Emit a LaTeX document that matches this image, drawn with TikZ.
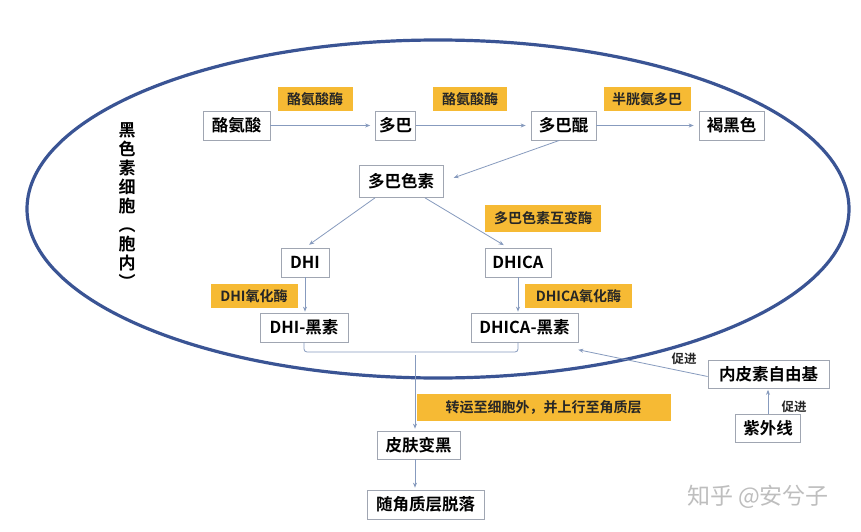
\documentclass[tikz,border=0pt]{standalone}
\usepackage{fontspec}
\setmainfont{Noto Sans CJK SC}[BoldFont={Noto Sans CJK SC Bold}]
\usetikzlibrary{arrows.meta}
\definecolor{ellc}{RGB}{58,84,148}
\definecolor{arrc}{RGB}{135,155,190}
\definecolor{boxc}{RGB}{160,166,178}
\definecolor{orangec}{RGB}{246,186,52}
\definecolor{wmc}{RGB}{190,190,190}
\begin{document}
\begin{tikzpicture}[x=1pt,y=-1pt,
  box/.style={draw=boxc, line width=0.7pt, fill=white, minimum height=29pt, inner sep=0pt,
    font=\fontsize{16.5}{16.5}\selectfont\bfseries, text=black},
  lab/.style={fill=orangec, inner sep=0pt, minimum height=24pt,
    font=\fontsize{14}{14}\selectfont\bfseries, text=black!85},
  plainlab/.style={inner sep=0pt, font=\fontsize{12.5}{12.5}\selectfont\bfseries, text=black!85},
  conn/.style={draw=arrc, line width=0.8pt},
  arr/.style={conn, -{Stealth[length=5pt,width=4pt]}},
]
\useasboundingbox (0,0) rectangle (861,532);
\fill[white] (0,0) rectangle (861,532);

% cell ellipse
\draw[ellc, line width=3.2pt] (438,209) ellipse [x radius=411, y radius=169];

% vertical label
\node[font=\fontsize{17}{19}\selectfont\bfseries, align=center, inner sep=0pt] (cell) at (127,206)
  {黑\\色\\素\\细\\胞\\︵\\胞\\内\\︶};

% boxes
\node[box, minimum width=67pt] (tyr) at (236.5,125.5) {酪氨酸};
\node[box, minimum width=40pt] (dopa) at (395.5,125.5) {多巴};
\node[box, minimum width=65pt] (dq) at (563.5,125.5) {多巴醌};
\node[box, minimum width=65pt] (brown) at (731.5,125.5) {褐黑色};
\node[box, minimum width=84pt, minimum height=32pt] (dc) at (401,181.5) {多巴色素};
\node[box, minimum width=48pt] (dhi) at (305,262.5) {DHI};
\node[box, minimum width=66pt] (dhica) at (518,262.5) {DHICA};
\node[box, minimum width=88pt] (dhim) at (304,327.5) {DHI-黑素};
\node[box, minimum width=107pt] (dhicam) at (524.5,327.5) {DHICA-黑素};
\node[box, minimum width=83pt, minimum height=28pt] (skin) at (418.5,445) {皮肤变黑};
\node[box, minimum width=117pt] (shed) at (425.5,504.5) {随角质层脱落};
\node[box, minimum width=121pt, minimum height=28pt] (et) at (768.5,374.5) {内皮素自由基};
\node[box, minimum width=65pt, minimum height=28pt] (uv) at (768,428.5) {紫外线};

% enzyme labels
\node[lab, minimum width=75pt] (e1) at (315,99) {酪氨酸酶};
\node[lab, minimum width=74pt] (e2) at (470,99) {酪氨酸酶};
\node[lab, minimum width=87pt] (e3) at (647,99) {半胱氨多巴};
\node[lab, minimum width=116pt, minimum height=27pt] (e4) at (543,218.5) {多巴色素互变酶};
\node[lab, minimum width=87pt] (e5) at (254,296) {DHI氧化酶};
\node[lab, minimum width=107pt] (e6) at (578.5,296) {DHICA氧化酶};
\node[lab, minimum width=254pt, minimum height=27pt] (e7) at (543.5,407.5) {转运至细胞外，并上行至角质层};

\node[plainlab] (p1) at (684,359) {促进};
\node[plainlab] (p2) at (794,407) {促进};

% connectors
\draw[arr, shorten >=5pt] (tyr.east) -- (dopa.west);
\draw[arr, shorten >=5pt] (dopa.east) -- (dq.west);
\draw[arr, shorten >=5pt] (dq.east) -- (brown.west);
\draw[arr, shorten >=11pt] ([xshift=-4pt]dq.south) -- (dc.east);
\draw[arr, shorten >=5pt] ([xshift=-26pt]dc.south) -- (dhi.north);
\draw[arr, shorten >=5pt] ([xshift=24pt]dc.south) -- ([xshift=-10pt]dhica.north);
\draw[arr, shorten >=1pt] (dhi.south) -- (dhim.north -| dhi.south);
\draw[arr, shorten >=1pt] (dhica.south) -- (dhicam.north -| dhica.south);

\coordinate (j) at (415,352);
\draw[conn, rounded corners=3pt] (dhim.south) |- (j);
\draw[conn, rounded corners=3pt] (dhica.south |- dhicam.south) |- (j);
\draw[arr, shorten >=2pt] ([yshift=-3pt]j) -- (j |- skin.north);
\draw[arr, shorten >=2pt] (skin.south -| j) -- (j |- shed.north);

\draw[arr, shorten >=2pt] ([yshift=-2pt]et.west) -- ([xshift=-2pt,yshift=-7pt]dhicam.south east);
\draw[arr, shorten >=1pt] (uv.north) -- (et.south -| uv.north);

% watermark
\node[text=wmc, font=\fontsize{23}{23}\selectfont, inner sep=0pt] (wm) at (758,497) {知乎\ @安兮子};
\end{tikzpicture}
\end{document}
